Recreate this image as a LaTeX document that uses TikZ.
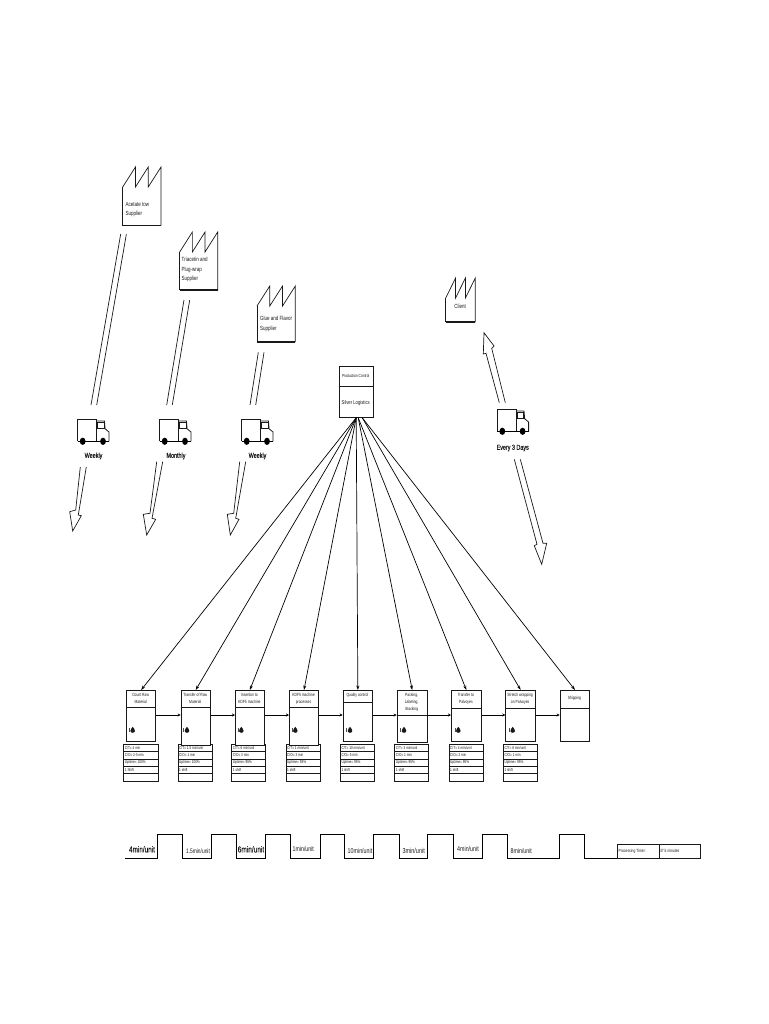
\documentclass[tikz,border=0pt]{standalone}
\usepackage{fontspec}
\setmainfont{Liberation Sans}
\newfontfamily\cond[FakeStretch=0.75]{Liberation Sans}
\newfontfamily\condb[FakeStretch=0.75,FakeBold=0.2]{Liberation Sans}
\usetikzlibrary{arrows.meta}
\newcommand{\fsz}[1]{\cond\fontsize{#1}{#1}\selectfont}
\newcommand{\fsb}[1]{\condb\fontsize{#1}{#1}\selectfont}
\tikzset{
  boxline/.style={draw=black!90,line width=1pt},
  thinline/.style={draw=black!90,line width=0.7pt},
  mgr/.style={draw=black,line width=0.7pt,-{Stealth[length=4.5pt,width=3pt]}},
  flow/.style={draw=black,line width=1pt,-{Stealth[length=3pt,width=3pt]}},
  label/.style={inner sep=0pt,text=black!90},
  procbox/.style={boxline,inner sep=0pt,fill=white},
}
% name x0 x1 shoulder peak bottom
\newcommand{\factory}[6]{%
  \coordinate (#1-a) at ({#2+(#3-#2)/3},#4);
  \coordinate (#1-b) at ({#2+2*(#3-#2)/3},#4);
  \draw[thinline,line join=miter] (#2,#5+20) -- ({#2+(#3-#2)/3},#5) -- ({#2+(#3-#2)/3},#5+20)
     -- ({#2+2*(#3-#2)/3},#5) -- ({#2+2*(#3-#2)/3},#5+20) -- (#3,#5) -- (#3,#6);
  \draw[thinline] (#2,#5+20) -- (#2,#6);
  \draw[boxline,line width=1.2pt] (#2,#6) -- (#3,#6);
}
% name x y (top-left of cargo body)
\newcommand{\truck}[3]{%
  \begin{scope}[shift={(#2,#3)}]
    \draw[thinline,line width=0.8pt] (0,22) -- (0,0) -- (19,0) -- (19,22);
    \draw[thinline,line width=0.8pt] (19,1.7) -- (26.7,1.7) -- (27.4,9.5) -- (31.3,12.7) -- (31.3,22);
    \draw[thinline,line width=0.8pt] (19,9.5) -- (27.4,9.5);
    \draw[thinline,line width=0.7pt] (20,3.4) rectangle (26.3,9);
    \draw[black,line width=1.2pt] (0,22) -- (31.3,22);
    \fill[black] (5,22) ellipse (2.9 and 3.6);
    \fill[black] (25.3,22) ellipse (2.9 and 3.6);
    \coordinate (#1) at (15,11);
  \end{scope}
}
% x1 y1 x2 y2 x3 y3 x4 y4 : two parallel lines
\newcommand{\twin}[8]{%
  \draw[thinline] (#1,#2) -- (#3,#4);
  \draw[thinline] (#5,#6) -- (#7,#8);
}
% name x0 x1 bottom divider  title titley
\newcommand{\proc}[7]{%
  \node[procbox,minimum width={(#3-#2)*1pt},minimum height={(#4-690)*1pt},anchor=north west] (#1) at (#2,690) {};
  \draw[boxline] (#2,#5) -- (#3,#5);
  \node[label,font=\fsz{4.5},align=center,anchor=center] (#1-t) at ({(#2+#3)/2},#7) {#6};
}
% name x0 x1 l1 l2 l3 l4
\newcommand{\tbl}[7]{%
  \draw[boxline,fill=white] (#2,744.3) rectangle (#3,781);
  \draw[boxline] (#2,751.6) -- (#3,751.6);
  \draw[boxline] (#2,759) -- (#3,759);
  \draw[boxline] (#2,766.3) -- (#3,766.3);
  \draw[boxline] (#2,773.6) -- (#3,773.6);
  \node[label,font=\fsz{4.2},anchor=west] (#1-a) at (#2+1,748) {#4};
  \node[label,font=\fsz{4.2},anchor=west] (#1-b) at (#2+1,755.3) {#5};
  \node[label,font=\fsz{4.2},anchor=west] (#1-c) at (#2+1,762.6) {#6};
  \node[label,font=\fsz{4.2},anchor=west] (#1-d) at (#2+1,770) {#7};
}
% x y : small icon
\newcommand{\kz}[2]{%
  \begin{scope}[shift={(#1,#2)}]
    \draw[black!70,line width=0.4pt] (-3.6,-1.6) -- (-3.6,1.6);
    \fill[black!90] (0,-3.2) .. controls (0.6,-1.6) and (2.6,-1) .. (2.3,1) .. controls (2.1,2.4) and (1,2.6) .. (0,2.8)
      .. controls (-1,2.6) and (-2.1,2.4) .. (-2.3,1) .. controls (-2.6,-1) and (-0.6,-1.6) .. (0,-3.2) -- cycle;
  \end{scope}
}
\begin{document}
\begin{tikzpicture}[x=1pt,y=-1pt]
\useasboundingbox (0,0) rectangle (768,1024);
\fill[white] (0,0) rectangle (768,1024);

% Factories
\factory{f1}{122.7}{161}{187}{167}{225.7}
\node[label,font=\fsz{6},align=left,anchor=north west] (f1t) at (125.5,202) {Acetate tow\\[3.5pt]Supplier};
\factory{f2}{179.7}{217.7}{252}{232}{290}
\node[label,font=\fsz{6},align=left,anchor=north west] (f2t) at (181.5,256.8) {Triacetin and\\[3.8pt]Plug-wrap\\[3.8pt]Supplier};
\factory{f3}{257}{295.3}{305}{286}{342}
\node[label,font=\fsz{6},align=left,anchor=north west] (f3t) at (260,315.8) {Glue and Flavor\\[4.6pt]Supplier};
\factory{f4}{445.7}{475.3}{292}{278}{322}
\node[label,font=\fsz{6}] (f4t) at (460,306.7) {Client};

% Shipment lines: upper
\twin{120.7}{234}{91}{405}{126.4}{234}{96.7}{405}
\twin{184}{300}{166.7}{405}{189.7}{300}{172.3}{405}
\twin{258.3}{352.3}{250}{405}{264}{352.3}{255.7}{405}

% Shipment arrows: lower
\draw[thinline,line join=miter] (80.3,467) -- (75.7,510) -- (69.7,511.7) -- (72.7,531) -- (81.3,515.7) -- (78.3,515) -- (86.3,467);
\draw[thinline,line join=miter] (156.7,461.7) -- (150,513.3) -- (143.3,514.3) -- (146.7,535) -- (155.7,519.3) -- (152,518.3) -- (162.7,461.7);
\draw[thinline,line join=miter] (239.7,461.7) -- (233.7,513.3) -- (227.3,514.3) -- (230.3,535) -- (239,519.3) -- (235.7,518.3) -- (245.7,461.7);

% Client arrows
\draw[thinline,line join=miter] (499.3,402.7) -- (486,353.3) -- (483.3,354) -- (484,332.7) -- (494,346) -- (491.7,348.3) -- (505.3,402.7);
\draw[thinline,line join=miter] (514.3,459.3) -- (537,544.3) -- (534.3,545.7) -- (541.7,564.3) -- (546.7,543.3) -- (543,543.3) -- (520.3,459.3);

% Trucks
\truck{t1}{77.7}{419.3}
\truck{t2}{159.7}{419.3}
\truck{t3}{241.7}{419.3}
\truck{t4}{497.3}{409.3}
\node[label,font=\fsb{7.2}] (w1) at (93.5,456) {Weekly};
\node[label,font=\fsb{7.2}] (w2) at (176,456) {Monthly};
\node[label,font=\fsb{7.2}] (w3) at (257.5,456) {Weekly};
\node[label,font=\fsb{7.2}] (w4) at (512.7,448) {Every 3 Days};

% Production control
\node[procbox,minimum width=34pt,minimum height=50.7pt,anchor=north west] (pc) at (338.7,366) {};
\draw[boxline] (338.7,386) -- (372.7,386);
\node[label,font=\fsz{4.4}] (pct) at (355.7,375.5) {Production Control};
\node[label,font=\fsz{5.6}] (pcs) at (355.7,403) {Silver Logistics};

% Tables first, process boxes over them
\coordinate (flowy) at (0,715);
\tbl{t-a}{123.7}{158}{C/T= 4 min}{C/O= 2-5 min}{Uptime= 100\%}{1 Shift}
\tbl{t-b}{178}{212.3}{C/T= 1.5 min/unit}{C/O= 1 min}{Uptime= 100\%}{1 shift}
\tbl{t-c}{231.7}{265.7}{C/T= 6 min/unit}{C/O= 3 min}{Uptime= 95\%}{1 shift}
\tbl{t-d}{286}{320}{C/T= 1 min/unit}{C/O= 3 min}{Uptime= 93\%}{1 shift}
\tbl{t-e}{340.3}{374.3}{C/T= 10 min/unit}{C/O= 5 min}{Uptime= 95\%}{1 shift}
\tbl{t-f}{394.7}{428.7}{C/T= 3 min/unit}{C/O= 1 min}{Uptime= 95\%}{1 shift}
\tbl{t-g}{449}{483}{C/T= 4 min/unit}{C/O= 2 min}{Uptime= 95\%}{1 shift}
\tbl{t-h}{503.3}{537.3}{C/T= 8 min/unit}{C/O= 1 min}{Uptime= 95\%}{1 shift}

\proc{p1}{126}{155.3}{741}{707.7}{Count Raw\\[2.6pt]Material}{698.8}
\proc{p2}{180.7}{209.7}{745}{707.7}{Transfer of Raw\\[2.6pt]Material}{698.8}
\proc{p3}{235}{263.7}{745}{707.7}{Insertion to\\[2.6pt]KDF5 machine}{698.8}
\proc{p4}{289}{318}{745}{707.7}{KDF5 machine\\[2.6pt]processes}{698.8}
\proc{p5}{342.7}{372}{741}{702}{Quality control}{695.5}
\proc{p6}{396.7}{426.7}{742}{715.7}{Packing,\\[2.4pt]Labeling,\\[2.4pt]Stacking}{702.5}
\proc{p7}{451}{480.7}{741}{708}{Transfer to\\[2.6pt]Palvoyes}{698.8}
\proc{p8}{505.3}{535}{741}{708}{Stretch wrapping\\[2.6pt]on Palvoyes}{698.8}
\proc{p9}{559.7}{589.3}{741}{708}{Shipping}{698.8}

\kz{132.7}{730}\kz{187}{730}\kz{241.3}{730}\kz{295.3}{730}
\kz{350}{730}\kz{404}{730}\kz{458.3}{730}\kz{512.7}{730}

% Flow between processes
\foreach \a/\b in {p1/p2,p2/p3,p3/p4,p4/p5,p5/p6,p6/p7,p7/p8,p8/p9}
  \draw[flow] (\a.east |- flowy) -- (\b.west |- flowy);

% Production control information lines
\foreach \b in {p1,p2,p3,p4,p5}
  \draw[mgr] (pc.south) -- (\b.north);
\draw[mgr] ([xshift=2pt]pc.south) -- (p6.north);
\draw[mgr] ([xshift=2pt]pc.south) -- (p7.north);
\draw[mgr] ([xshift=6pt]pc.south) -- (p8.north);
\draw[mgr] ([xshift=6pt]pc.south) -- (p9.north);

% Timeline
\draw[black,line width=1pt,line join=miter] (125,858.3) -- (157,858.3) -- (157,834.3) -- (182,834.3) -- (182,858.3)
  -- (211.3,858.3) -- (211.3,834.3) -- (236.7,834.3) -- (236.7,858.3)
  -- (265.7,858.3) -- (265.7,834.3) -- (290.7,834.3) -- (290.7,858.3)
  -- (320,858.3) -- (320,834.3) -- (344.7,834.3) -- (344.7,858.3)
  -- (373.7,858.3) -- (373.7,834.3) -- (399.3,834.3) -- (399.3,858.3)
  -- (427.7,858.3) -- (427.7,834.3) -- (453.3,834.3) -- (453.3,858.3)
  -- (482.3,858.3) -- (482.3,834.3) -- (507.3,834.3) -- (507.3,858.3)
  -- (559.3,858.3) -- (559.3,834.3) -- (584.7,834.3) -- (584.7,858.3) -- (617.7,858.3);
\draw[boxline] (617.7,844.7) rectangle (700,858.5);
\draw[boxline] (659.3,844.7) -- (659.3,858.5);
\node[label,font=\fsz{4.5},anchor=west] (pt) at (618.5,851) {Processing Time=};
\node[label,font=\fsz{4.5},anchor=west] (pv) at (659.8,851) {37.5 minutes};
\node[label,font=\fsb{8.5}] (l1) at (142,849.3) {4min/unit};
\node[label,font=\fsz{6.5}] (l2) at (198,851) {1.5min/unit};
\node[label,font=\fsb{8.7}] (l3) at (251,849.3) {6min/unit};
\node[label,font=\fsz{7}] (l4) at (303.3,849) {1min/unit};
\node[label,font=\fsz{7.1}] (l5) at (360,851) {10min/unit};
\node[label,font=\fsz{7.3}] (l6) at (413.7,851) {3min/unit};
\node[label,font=\fsz{7.1}] (l7) at (468,849.3) {4min/unit};
\node[label,font=\fsz{7}] (l8) at (521.3,850.5) {8min/unit};
\end{tikzpicture}
\end{document}
